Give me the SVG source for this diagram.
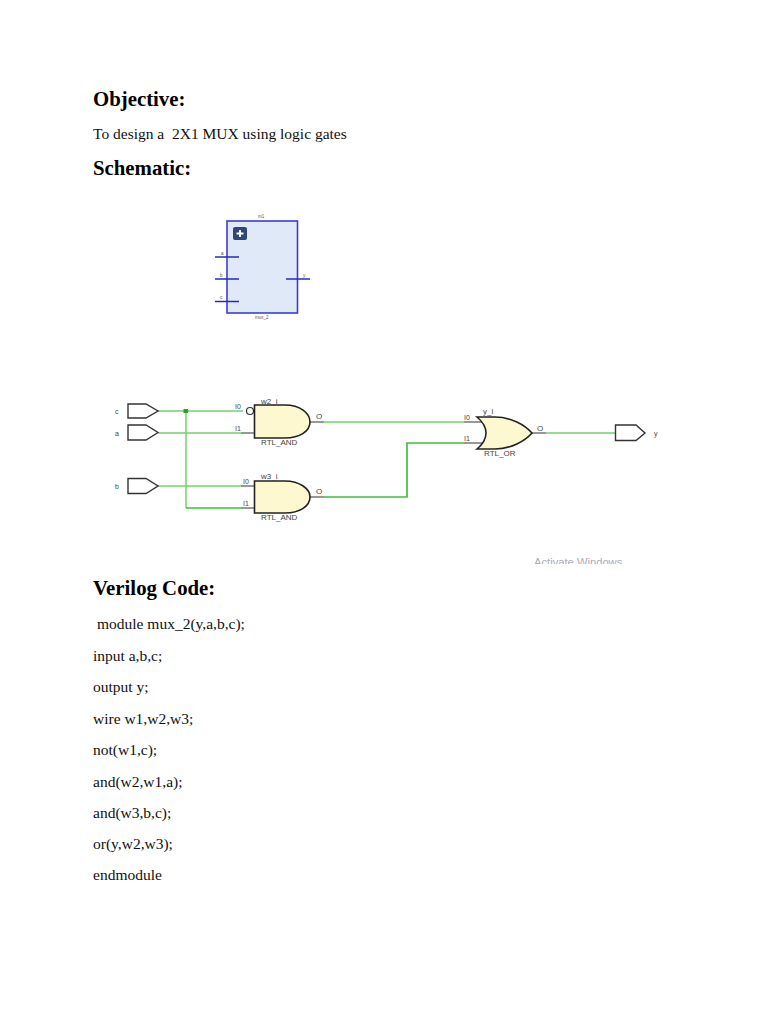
<svg xmlns="http://www.w3.org/2000/svg" width="768" height="1024" viewBox="0 0 768 1024">
<defs><clipPath id="aw"><rect x="500" y="550" width="160" height="14"/></clipPath></defs>
<style>
.h{font:bold 20.8px "Liberation Serif",serif;fill:#000}
.b{font:15.5px "Liberation Serif",serif;fill:#111;white-space:pre}
.s{font:7px "Liberation Sans",sans-serif;fill:#444}
.l{font:8px "Liberation Sans",sans-serif;fill:#444}
.t{font:4.5px "Liberation Sans",sans-serif;fill:#555}
.w{fill:none;stroke:#74d26e;stroke-width:1.5}
.d{fill:none;stroke:#3cc03a;stroke-width:1.7}
.p{fill:none;stroke:#777;stroke-width:1.4}
.g{fill:#fdf8d0;stroke:#222;stroke-width:1.6}
.port{fill:#fff;stroke:#333;stroke-width:1.4}
.bar{stroke:#2a2ac0;stroke-width:1.3}
</style>
<rect width="768" height="1024" fill="#fff"/>
<g id="text">
<text class="h" x="93" y="106">Objective:</text>
<text class="b" x="93" y="138.500">To design a  2X1 MUX using logic gates</text>
<text class="h" x="93" y="175">Schematic:</text>
<text class="h" x="93" y="595">Verilog Code:</text>
<text class="b" x="97" y="628.500">module mux_2(y,a,b,c);</text>
<text class="b" x="93" y="660.500">input a,b,c;</text>
<text class="b" x="93" y="691.500">output y;</text>
<text class="b" x="93" y="723.500">wire w1,w2,w3;</text>
<text class="b" x="93" y="754.500">not(w1,c);</text>
<text class="b" x="93" y="786.500">and(w2,w1,a);</text>
<text class="b" x="93" y="817.500">and(w3,b,c);</text>
<text class="b" x="93" y="848.500">or(y,w2,w3);</text>
<text class="b" x="93" y="879.500">endmodule</text>
<text x="534" y="566" clip-path="url(#aw)" style="font:11.2px 'Liberation Sans',sans-serif;fill:#aab">Activate Windows</text>
</g>
<g id="mux_2">
<rect x="227" y="221" width="70.500" height="92" fill="#dfe9f8" stroke="#3c3cd8" stroke-width="1.6"/>
<rect x="233" y="227" width="14" height="13" rx="2" fill="#2f4678"/>
<path d="M240 230v7M236.500 233.500h7" stroke="#fff" stroke-width="1.800"/>
<path class="bar" d="M215 257h24M215 279h24M215 301.500h24M286 279h24"/>
<text class="t" x="221" y="255">a</text><text class="t" x="220" y="277">b</text><text class="t" x="220" y="299">c</text><text class="t" x="303" y="277">y</text>
<text class="t" x="258" y="218">m1</text><text class="t" x="255" y="319">mux_2</text>
</g>
<g id="connectors">
<path class="w" d="M158 411H243M158 433H241M158 486H241M186 411V508"/>
<path class="d" d="M186 508H241"/>
<path class="w" d="M324 422H464M546 433H615"/>
<path class="d" d="M324 497H407V443H464"/>
<rect x="183.500" y="409" width="4.500" height="4" fill="#1faa1f"/>
</g>
<g id="port_c"><path class="port" d="M128 404H146L158 411 146 418H128Z"/><text class="s" x="115" y="414">c</text></g>
<g id="port_a"><path class="port" d="M128 425H146L158 432.500 146 440H128Z"/><text class="s" x="115" y="436">a</text></g>
<g id="port_b"><path class="port" d="M128 478.500H146L158 486 146 493.500H128Z"/><text class="s" x="115" y="489">b</text></g>
<g id="w2_i">
<path class="p" d="M241 433H255M310 422H324"/>
<circle cx="250" cy="411" r="3.500" fill="#fff" stroke="#333" stroke-width="1.200"/>
<path class="g" d="M254.500 405H285C300 405 310 413 310 422 310 431 300 438 285 438H254.500Z"/>
<text class="s" x="235" y="409">I0</text><text class="s" x="235" y="431">I1</text><text class="l" x="261" y="404">w2_i</text><text class="l" x="316" y="419">O</text><text class="l" x="261" y="445">RTL_AND</text>
</g>
<g id="w3_i">
<path class="p" d="M241 486H255M241 508H255M310 497H324"/>
<path class="g" d="M254.500 481H285C300 481 310 489 310 497 310 506 300 513 285 513H254.500Z"/>
<text class="s" x="243" y="484">I0</text><text class="s" x="243" y="506">I1</text><text class="l" x="261" y="479">w3_i</text><text class="l" x="316" y="494">O</text><text class="l" x="261" y="520">RTL_AND</text>
</g>
<g id="y_i">
<path class="p" d="M464 422H483M464 443H482M532 433H546"/>
<path class="g" d="M477 417H495C511 417 525 425 532 433 525 441 511 449 495 449H477C489 439 489 427 477 417Z"/>
<text class="s" x="464" y="420">I0</text><text class="s" x="464" y="441">I1</text><text class="l" x="483" y="414">y_i</text><text class="l" x="537" y="431">O</text><text class="l" x="484" y="456">RTL_OR</text>
</g>
<g id="port_y"><path class="port" d="M615.500 425H636L645 433 636 440.500H615.500Z"/><text class="s" x="654" y="436">y</text></g>
</svg>
